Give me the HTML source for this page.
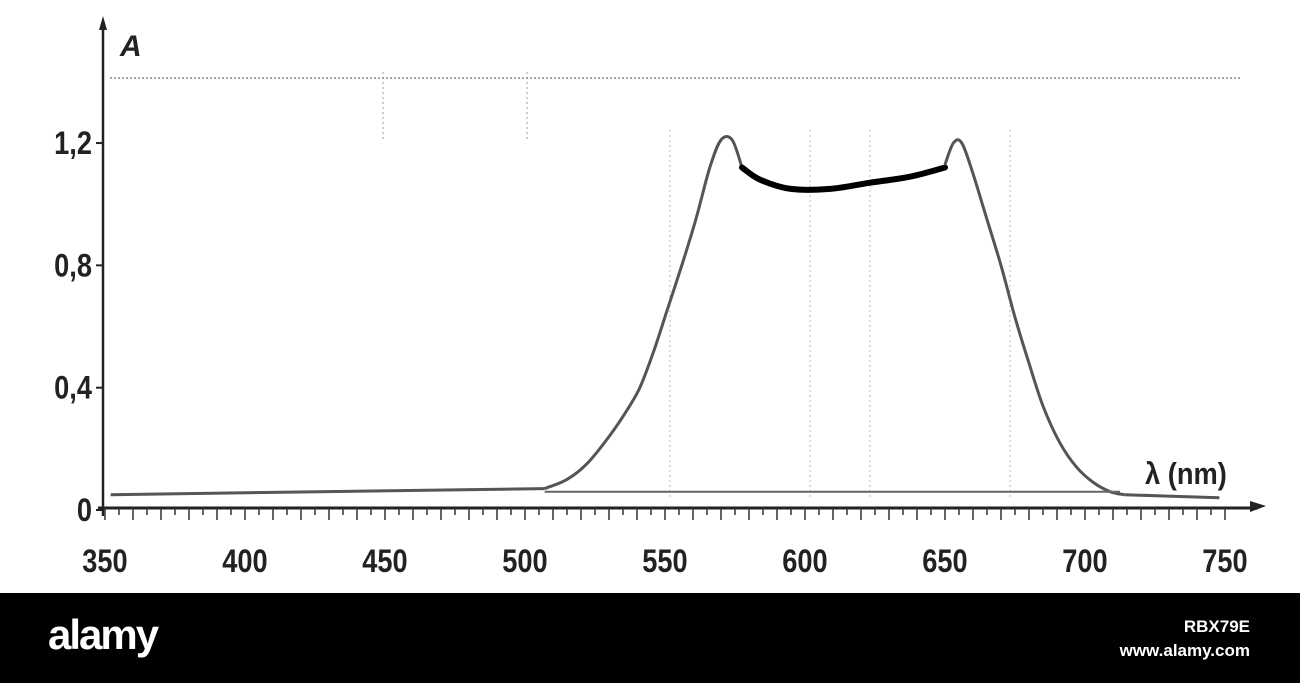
<!DOCTYPE html>
<html><head><meta charset="utf-8">
<style>
body{margin:0;width:1300px;height:683px;background:#fff;overflow:hidden;font-family:"Liberation Sans",sans-serif}
#footer{position:absolute;left:0;top:593px;width:1300px;height:90px;background:#000}
</style></head><body>
<svg id="chart" width="1300" height="593" style="position:absolute;left:0;top:0">
<g id="grid"></g>
<g id="axes"></g>
<g id="series"></g>
</svg>
<div id="footer">
<div style="position:absolute;left:48px;top:18px;color:#fff;font-weight:bold;font-size:42px;letter-spacing:-2px">alamy</div>
<div style="position:absolute;right:50px;top:24px;color:#fff;font-weight:bold;font-size:17px">RBX79E</div>
<div style="position:absolute;right:50px;top:48px;color:#fff;font-weight:bold;font-size:17px">www.alamy.com</div>
</div>
<script>
const xTicks=[350,400,450,500,550,600,650,700,750];
const yTicks=[0,0.4,0.8,1.2];
const yTickLabels=["0","0,4","0,8","1,2"];
const leftBaseNm=[352,507];
const leftBaseA=[0.05,0.07];
const grayNm=[507,515,522,530,536,541,546,551,556,561,566,570,574,577.5];
const grayA=[0.07,0.1,0.15,0.24,0.32,0.4,0.52,0.66,0.8,0.95,1.12,1.21,1.21,1.12];
const blackNm=[577.5,584,595,609,623,637.5,650];
const blackA=[1.12,1.08,1.05,1.05,1.07,1.09,1.12];
const rightNm=[650,653,656,660,665,670,675,680,685,691,697,703,709,714];
const rightA=[1.13,1.2,1.2,1.1,0.95,0.8,0.63,0.48,0.34,0.22,0.14,0.09,0.06,0.05];
const rightBaseNm=[714,748];
const rightBaseA=[0.05,0.04];
const baseNm=[507,712.5];
const baseA=[0.06,0.06];
const NS="http://www.w3.org/2000/svg";
const X=v=>105+(v-350)*2.8, Y=a=>510-a*305.8;
function mk(tag,attrs,parent,txt){const e=document.createElementNS(NS,tag);for(const k in attrs)e.setAttribute(k,attrs[k]);if(txt!==undefined)e.textContent=txt;document.getElementById(parent).appendChild(e);return e;}
let g=mk('line',{x1:110,y1:78,x2:1240,y2:78,stroke:'#888','stroke-dasharray':'2 2','stroke-width':1.5},'grid');


[383,527].forEach(x=>{const l=mk('line',{x1:x,y1:72,x2:x,y2:140,stroke:'#999','stroke-dasharray':'2 3'},'grid');

});
[670,810,870,1010].forEach(x=>{const l=mk('line',{x1:x,y1:130,x2:x,y2:498,stroke:'#bbb','stroke-dasharray':'2 3'},'grid');

});
let a=mk('line',{x1:103,y1:22,x2:103,y2:516,stroke:'#222','stroke-width':2.5},'axes');


a=mk('polygon',{points:'103,16 99,30 107,30',fill:'#222'},'axes');


a=mk('line',{x1:98,y1:508,x2:1258,y2:508,stroke:'#222','stroke-width':3},'axes');


a=mk('polygon',{points:'1266,506 1250,501 1250,512',fill:'#222'},'axes');


for(let v=350;v<=750;v+=5){const t=mk('line',{x1:X(v),y1:508,x2:X(v),y2:v%10==0?520:515,stroke:'#333','stroke-width':1.5},'axes');

}
xTicks.forEach(v=>{const t=mk('text',{x:X(v),y:572,'text-anchor':'middle','font-size':32,'font-weight':'bold',fill:'#222',transform:`translate(${X(v)},0) scale(0.85,1) translate(${-X(v)},0)`},'axes',String(v));

});
yTicks.forEach((v,i)=>{const t=mk('line',{x1:96,y1:Y(v),x2:103,y2:Y(v),stroke:'#222','stroke-width':2},'axes');


const l=mk('text',{x:92,y:Y(v)+11,'text-anchor':'end','font-size':32,'font-weight':'bold',fill:'#222',transform:`translate(92,0) scale(0.85,1) translate(-92,0)`},'axes',yTickLabels[i]);

});
a=mk('text',{x:120,y:56,'font-size':30,'font-style':'italic','font-weight':'bold',fill:'#222'},'axes','A');


a=mk('text',{x:1145,y:484,'font-size':31,'font-weight':'bold',fill:'#222',transform:'translate(1145,0) scale(0.88,1) translate(-1145,0)'},'axes','λ (nm)');


function path(nm,A){const p=nm.map((v,i)=>[X(v),Y(A[i])]);let d='M'+p[0][0].toFixed(1)+','+p[0][1].toFixed(1);
for(let i=0;i<p.length-1;i++){const p0=p[i-1]||p[i],p1=p[i],p2=p[i+1],p3=p[i+2]||p2;
const c1=[p1[0]+(p2[0]-p0[0])/6,p1[1]+(p2[1]-p0[1])/6],c2=[p2[0]-(p3[0]-p1[0])/6,p2[1]-(p3[1]-p1[1])/6];
d+=` C${c1[0].toFixed(1)},${c1[1].toFixed(1)} ${c2[0].toFixed(1)},${c2[1].toFixed(1)} ${p2[0].toFixed(1)},${p2[1].toFixed(1)}`;}return d;}
let s=mk('path',{d:path(leftBaseNm,leftBaseA),fill:'none',stroke:'#555','stroke-width':3},'series');


s=mk('path',{d:path(grayNm,grayA),fill:'none',stroke:'#555','stroke-width':3,'stroke-linejoin':'round'},'series');


s=mk('path',{d:path(rightNm,rightA),fill:'none',stroke:'#555','stroke-width':3,'stroke-linejoin':'round'},'series');


s=mk('path',{d:path(rightBaseNm,rightBaseA),fill:'none',stroke:'#555','stroke-width':3},'series');


s=mk('path',{d:path(baseNm,baseA),fill:'none',stroke:'#666','stroke-width':2},'series');


s=mk('path',{d:path(blackNm,blackA),fill:'none',stroke:'#000','stroke-width':6,'stroke-linecap':'round','stroke-linejoin':'round'},'series');


</script>
</body></html>
